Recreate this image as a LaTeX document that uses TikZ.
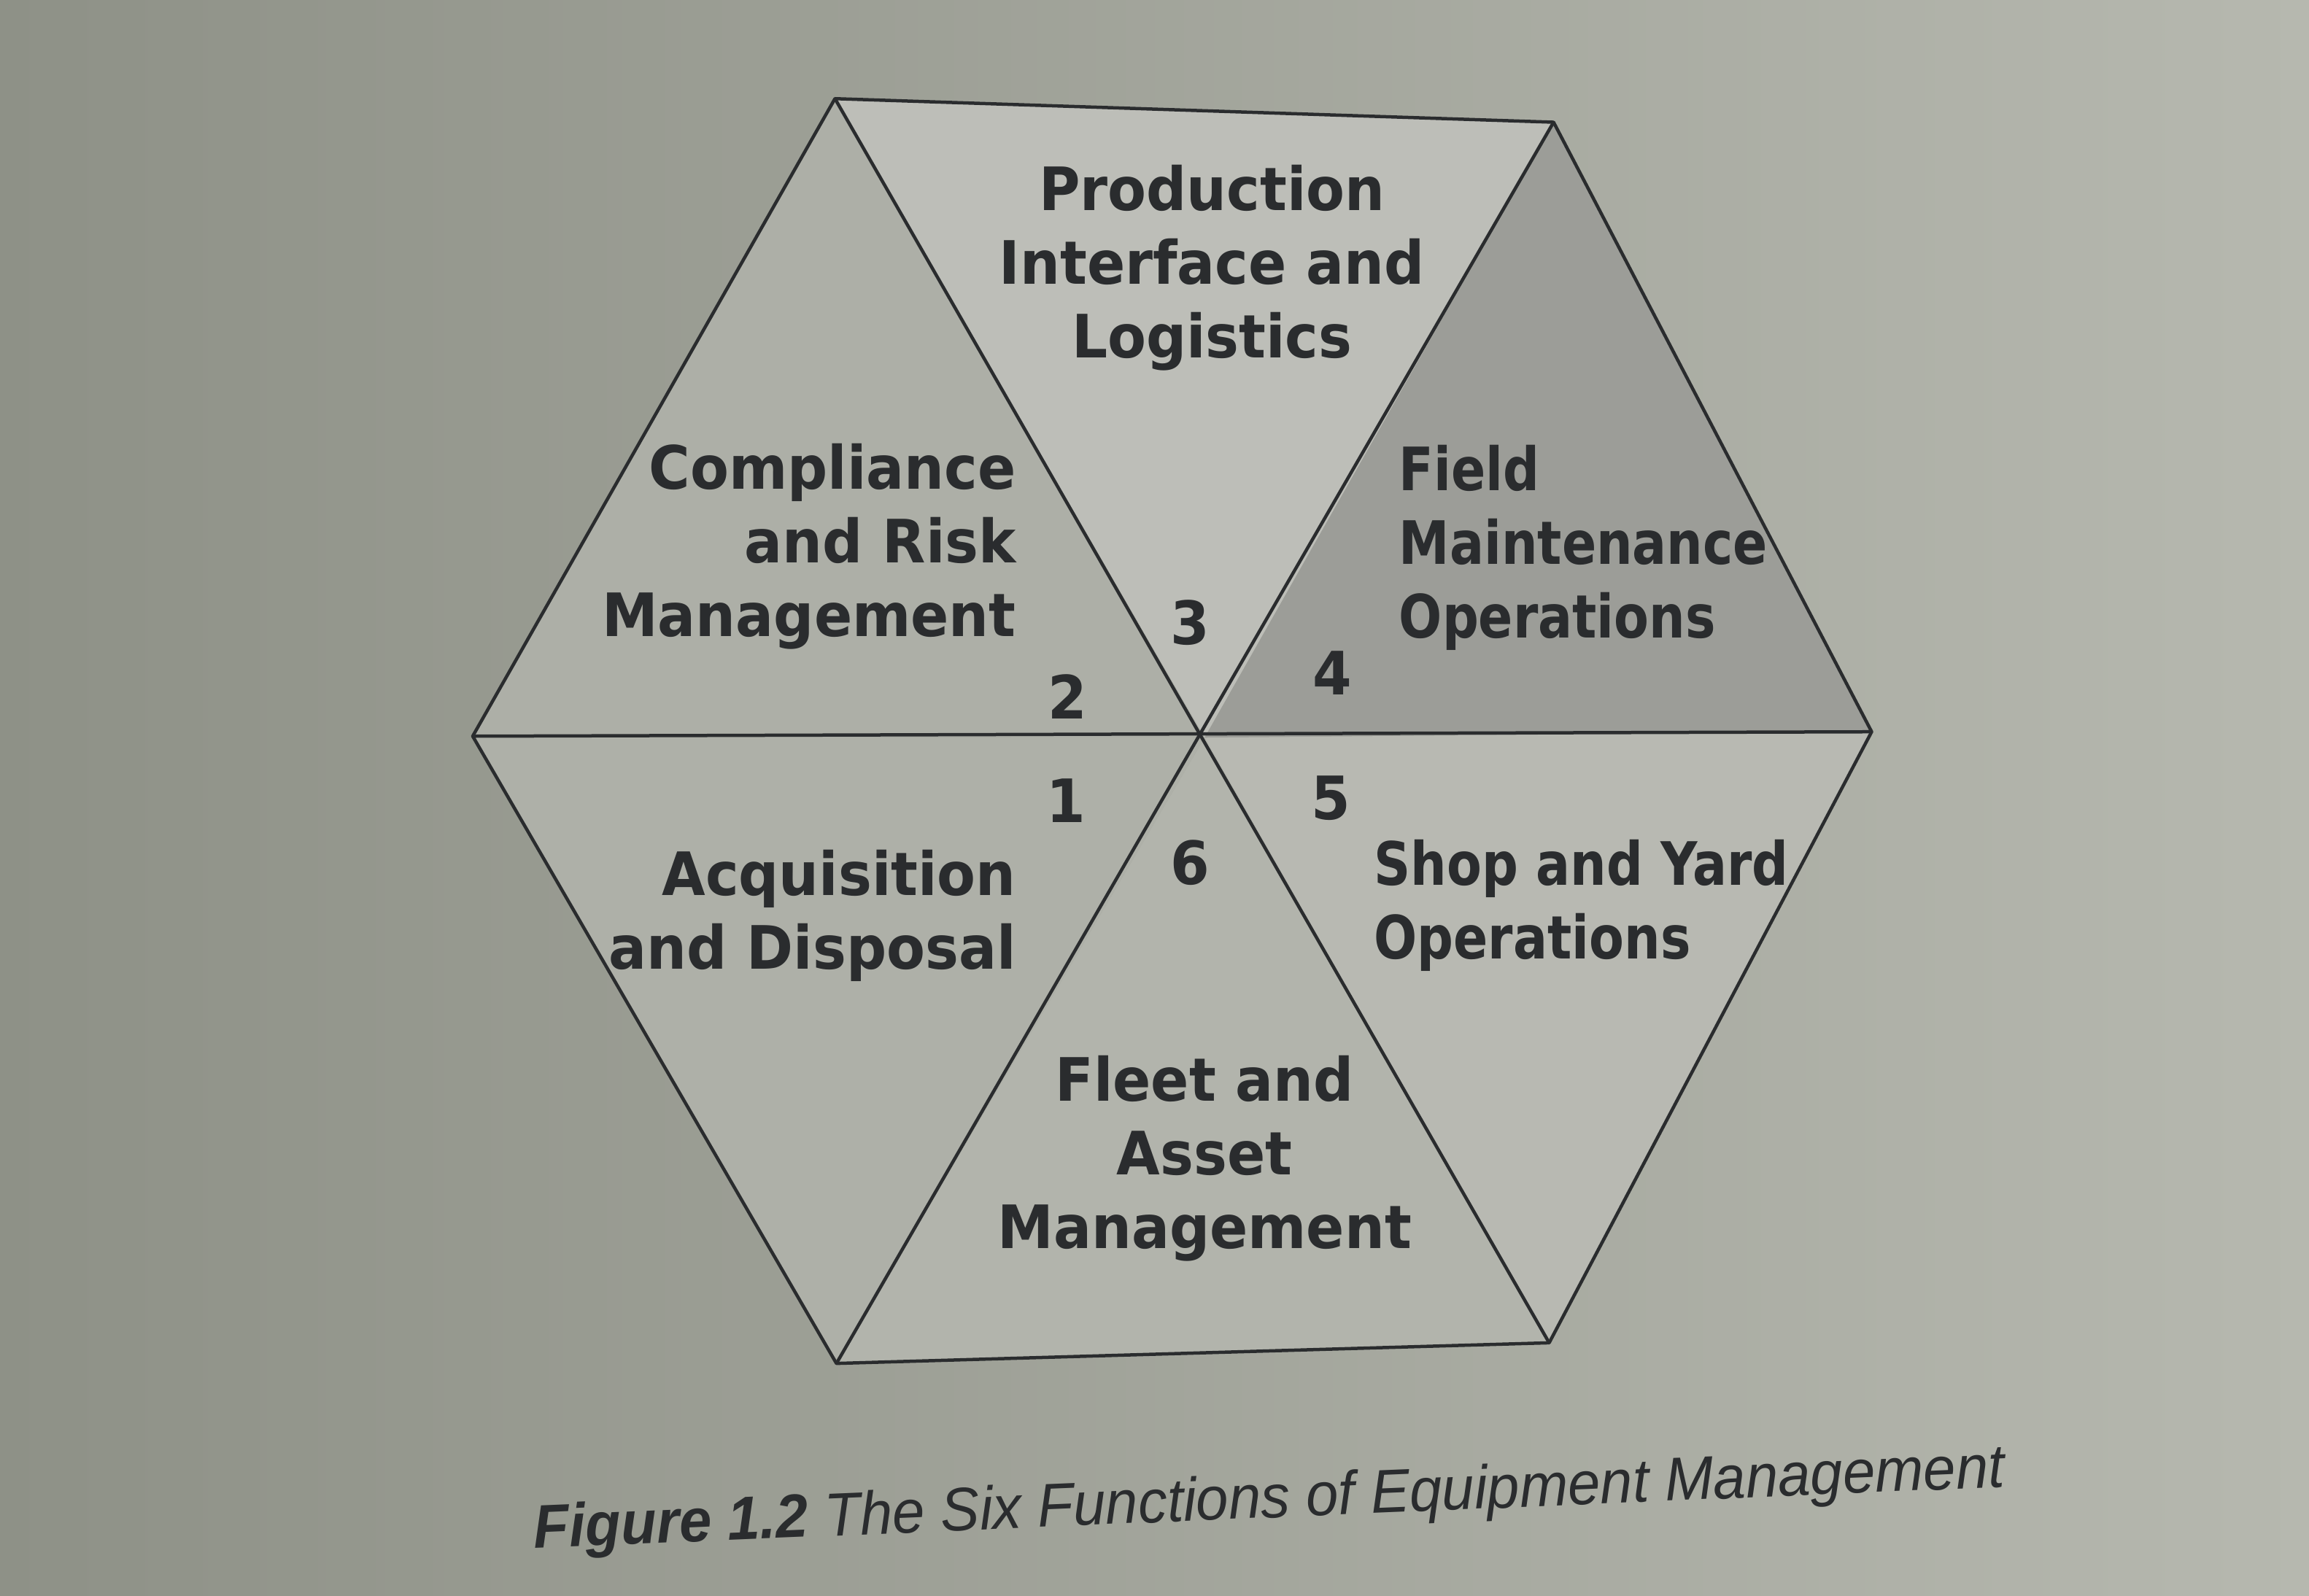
\documentclass[tikz,border=0pt]{standalone}
\usepackage{fontspec}
\setmainfont{DejaVu Sans}[FakeStretch=0.94]
\newfontfamily\rightfont{DejaVu Sans}[FakeStretch=0.85]
\newfontfamily\capfont{Liberation Sans}[FakeStretch=0.95]
\definecolor{bgL}{HTML}{8E9187}
\definecolor{bgM}{HTML}{A9ABA2}
\definecolor{bgR}{HTML}{B6B8AF}
\definecolor{triA}{HTML}{BDBEB8}
\definecolor{triB}{HTML}{ADAFA7}
\definecolor{triC}{HTML}{9C9D98}
\definecolor{triD}{HTML}{B8B9B2}
\definecolor{triE}{HTML}{B2B4AC}
\definecolor{triF}{HTML}{AEB0A8}
\definecolor{ink}{HTML}{2A2C2E}
\begin{document}
\begin{tikzpicture}[x=2.0185pt,y=-2.0185pt,
  edge/.style={draw=ink, line width=4.5pt, line join=round},
  lbl/.style={font=\bfseries\fontsize{82}{101}\selectfont, text=ink, inner sep=0pt},
  rlbl/.style={font=\rightfont\bfseries\fontsize{82}{101}\selectfont, text=ink, inner sep=0pt},
  num/.style={font=\bfseries\fontsize{82}{101}\selectfont, text=ink, inner sep=0pt},
  captext/.style={font=\capfont\itshape\fontsize{84}{96}\selectfont, text=ink, inner sep=0pt}]
\useasboundingbox (0,0) rectangle (1568,1083.5);
\shade[left color=bgL, middle color=bgM, right color=bgR] (0,0) rectangle (1568,1083.5);
% vertices
\coordinate (TL) at (567,67);
\coordinate (TR) at (1055,83);
\coordinate (R)  at (1271,497);
\coordinate (BR) at (1052,912);
\coordinate (BL) at (568,926);
\coordinate (L)  at (321,500);
\coordinate (C)  at (818,501);
% triangle fills
\fill[triA] (C) -- (TL) -- (TR) -- cycle;
\fill[triC] (C) -- (TR) -- (R) -- cycle;
\fill[triD] (C) -- (R) -- (BR) -- cycle;
\fill[triE] (C) -- (BR) -- (BL) -- cycle;
\fill[triF] (C) -- (BL) -- (L) -- cycle;
\fill[triB] (C) -- (L) -- (TL) -- cycle;
% outline and diagonals
\draw[edge] (TL) -- (TR) -- (R) -- (BR) -- (BL) -- (L) -- cycle;
\draw[edge] (TL) -- (BR);
\draw[edge] (TR) -- (BL);
\draw[edge] (L) -- (R);
% labels
\node[lbl, align=center] (t3) at (823,182) {Production\\Interface and\\Logistics};
\node[lbl, align=right, anchor=east] (t2) at (690,371) {Compliance\\and Risk\\Management};
\node[rlbl, align=left, anchor=west] (t4) at (950,372) {Field\\Maintenance\\Operations};
\node[lbl, align=right, anchor=east] (t1) at (690,622) {Acquisition\\and Disposal};
\node[rlbl, align=left, anchor=west] (t5) at (933,615) {Shop and Yard\\Operations};
\node[lbl, align=center] (t6) at (818,787) {Fleet and\\Asset\\Management};
% numbers
\node[num] (n1) at (724,544) {1};
\node[num] (n2) at (725,473) {2};
\node[num] (n3) at (808,423) {3};
\node[num] (n4) at (905,457) {4};
\node[num] (n5) at (904,542) {5};
\node[num] (n6) at (808,586) {6};
% caption
\node[captext, rotate=2.4] (caption) at (862,1020) {\textbf{Figure 1.2} The Six Functions of Equipment Management};
\end{tikzpicture}
\end{document}
